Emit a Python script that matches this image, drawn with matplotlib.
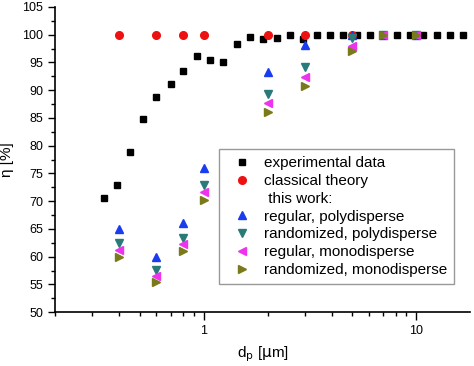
import matplotlib
matplotlib.use('Agg')
import matplotlib.pyplot as plt
from matplotlib.ticker import LogLocator, FixedLocator, NullFormatter, MultipleLocator

plt.rcParams['font.family'] = ['Liberation Sans', 'DejaVu Sans']

# experimental data
exp_d = [0.34, 0.39, 0.45, 0.52, 0.60, 0.70, 0.80, 0.93, 1.07, 1.24, 1.43, 1.65, 1.91, 2.21,
         2.55, 2.94, 3.41, 3.93, 4.55, 5.26, 6.07, 7.02, 8.11, 9.37, 10.8, 12.5, 14.5, 16.7]
exp_eta = [70.6, 73.0, 78.9, 84.9, 88.7, 91.2, 93.4, 96.1, 95.5, 95.0, 98.3, 99.5, 99.3, 99.4,
           100, 99.3, 100, 100, 100, 100, 100, 100, 100, 100, 100, 100, 100, 100]

# classical theory
sim_d = [0.4, 0.6, 0.8, 1.0, 2.0, 3.0, 5.0, 7.0, 10.0]
classic = [100, 100, 100, 100, 100, 100, 100, 100, 100]

# this work
reg_poly = [65.0, 60.0, 66.1, 76.0, 93.2, 98.1, 100, 100, 100]
rand_poly = [62.5, 57.6, 63.4, 73.0, 89.3, 94.1, 99.4, 100, 100]
reg_mono = [61.2, 56.5, 62.3, 71.7, 87.7, 92.4, 98.0, 100, 100]
rand_mono = [60.0, 55.5, 61.0, 70.3, 86.0, 90.7, 97.0, 100, 100]

fig = plt.figure(figsize=(4.74, 3.66), dpi=100)
ax = fig.add_axes([0.116, 0.147, 0.876, 0.834])

ax.plot(exp_d, exp_eta, 's', color='black', ms=4.5, label='experimental data', linestyle='none')
ax.plot(sim_d, classic, 'o', color='#ee1111', ms=5.5, label='classical theory', linestyle='none')
ax.plot([], [], ' ', label=' this work:')
ax.plot(sim_d, reg_poly, '^', color='#1a3cf0', ms=6, label='regular, polydisperse', linestyle='none')
ax.plot(sim_d, rand_poly, 'v', color='#2a7a7a', ms=6, label='randomized, polydisperse', linestyle='none')
ax.plot(sim_d, reg_mono, '<', color='#ee33ee', ms=6, label='regular, monodisperse', linestyle='none')
ax.plot(sim_d, rand_mono, '>', color='#7a7a1a', ms=6, label='randomized, monodisperse', linestyle='none')

ax.set_xscale('log')
ax.set_xlim(0.2, 17.96)
ax.set_ylim(50, 105)

ax.xaxis.set_major_locator(FixedLocator([1, 10]))
ax.set_xticklabels(['1', '10'])
ax.xaxis.set_minor_locator(LogLocator(base=10, subs=[2, 3, 4, 5, 6, 7, 8, 9]))
ax.xaxis.set_minor_formatter(NullFormatter())
ax.yaxis.set_major_locator(MultipleLocator(5))
ax.yaxis.set_minor_locator(MultipleLocator(2.5))

ax.tick_params(which='major', direction='out', length=5, width=1, labelsize=9, colors='black')
ax.tick_params(which='minor', direction='out', length=3, width=1)
ax.tick_params(axis='x', which='major', length=6)
for s in ['top', 'right']:
    ax.spines[s].set_visible(False)
for s in ['left', 'bottom']:
    ax.spines[s].set_linewidth(1.2)

ax.set_xlabel(r'd$_\mathrm{p}$ [$\mathrm{\mu}$m]', fontsize=11, labelpad=5)
ax.set_ylabel('η [%]', fontsize=11, labelpad=6)

leg = ax.legend(loc='upper left', bbox_to_anchor=(0.396, 0.534), borderaxespad=0,
                fontsize=11, labelspacing=0.25, handlelength=2.0, handletextpad=0.45,
                fancybox=False, edgecolor='#999999', framealpha=1, borderpad=0.45)
leg.get_frame().set_linewidth(1.0)

plt.savefig('out.png', dpi=100)
